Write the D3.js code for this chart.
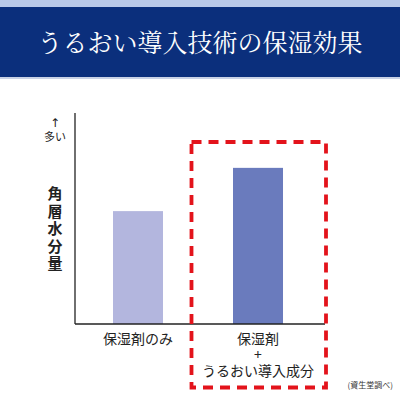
<!DOCTYPE html>
<html>
<head>
<meta charset="utf-8">
<script src="https://cdn.jsdelivr.net/npm/d3@7"></script>
<style>
  html, body { margin: 0; padding: 0; background: #fff; }
  svg { display: block; }
</style>
</head>
<body>
<div id="chart"></div>
<script>
// data
const title = 'うるおい導入技術の保湿効果'
const categories = ['保湿剤のみ', '保湿剤+うるおい導入成分']
const categoryLabels = [['保湿剤のみ'], ['保湿剤', '+', 'うるおい導入成分']]
const values = [53.5, 74]
const barColors = ['#b3b6de', '#6a7bbd']
const yLabelChars = ['角', '層', '水', '分', '量']
const yTopLabel = '多い'
const sourceNote = '(資生堂調べ)'
const highlighted = categories[1]

const width = 400
const height = 400
const margin = { top: 113, right: 75, bottom: 76, left: 75 }
const sans = '"Noto Sans CJK JP", "Noto Sans", sans-serif'
const serif = '"Noto Serif CJK JP", "IPAMincho", serif'

const svg = d3.select('#chart')
  .append('svg')
  .attr('width', width)
  .attr('height', height)
  .attr('viewBox', [0, 0, width, height].join(' '))

// header banner
svg.append('rect').attr('x', 0).attr('y', 0).attr('width', width).attr('height', 8).attr('fill', '#b9c9e8')
svg.append('rect').attr('x', 0).attr('y', 7).attr('width', width).attr('height', 70).attr('fill', '#0b2f7c')
svg.append('rect').attr('x', 0).attr('y', 77).attr('width', width).attr('height', 2).attr('fill', '#c9d2e6')
svg.append('text')
  .attr('x', width / 2)
  .attr('y', 52)
  .attr('text-anchor', 'middle')
  .attr('fill', '#fff')
  .attr('font-family', serif)
  .attr('font-size', 25)
  .text(title)

// scales
const x = d3.scaleBand()
  .domain(categories)
  .range([margin.left, width - margin.right])
  .paddingInner(0.5833)
  .paddingOuter(0.3333)
  .align(0.475)

const y = d3.scaleLinear()
  .domain([0, 100])
  .range([height - margin.bottom, margin.top])

// bars
svg.append('g')
  .selectAll('rect')
  .data(categories)
  .join('rect')
  .attr('x', d => x(d))
  .attr('width', x.bandwidth())
  .attr('y', (d, i) => y(values[i]))
  .attr('height', (d, i) => y(0) - y(values[i]))
  .attr('fill', (d, i) => barColors[i])

// axes (plain lines, no ticks)
const axes = svg.append('g').attr('stroke', '#222').attr('stroke-width', 1.3)
axes.append('line')
  .attr('x1', margin.left).attr('x2', margin.left)
  .attr('y1', y(100)).attr('y2', y(0))
axes.append('line')
  .attr('x1', margin.left).attr('x2', width - margin.right)
  .attr('y1', y(0)).attr('y2', y(0))

// category labels
const labels = svg.append('g')
  .attr('font-family', sans)
  .attr('font-size', 14)
  .attr('fill', '#222')
  .attr('text-anchor', 'middle')

categories.forEach((c, i) => {
  labels.append('text')
    .attr('x', x(c) + x.bandwidth() / 2)
    .attr('y', y(0) + 20)
    .selectAll('tspan')
    .data(categoryLabels[i])
    .join('tspan')
    .attr('x', x(c) + x.bandwidth() / 2)
    .attr('dy', (d, j) => j === 0 ? 0 : 16)
    .text(d => d)
})

// highlight box
const hx = x(highlighted) + x.bandwidth() / 2
svg.append('rect')
  .attr('x', hx - 66.5)
  .attr('y', 142)
  .attr('width', 134.5)
  .attr('height', 245.5)
  .attr('fill', 'none')
  .attr('stroke', '#e3131b')
  .attr('stroke-width', 3.8)
  .attr('stroke-dasharray', '10,7')

// y label
const yl = svg.append('g')
  .attr('font-family', sans)
  .attr('fill', '#222')
  .attr('text-anchor', 'middle')

yl.append('text')
  .attr('x', 55).attr('y', 127)
  .attr('font-family', '"DejaVu Sans", sans-serif')
  .attr('font-size', 12)
  .text('↑')
yl.append('text')
  .attr('x', 55).attr('y', 141)
  .attr('font-size', 11)
  .text(yTopLabel)
yl.selectAll('text.ch')
  .data(yLabelChars)
  .join('text')
  .attr('class', 'ch')
  .attr('x', 55)
  .attr('y', (d, i) => 199 + i * 17.5)
  .attr('font-size', 15)
  .attr('font-weight', 'bold')
  .text(d => d)

// source note
svg.append('text')
  .attr('x', 393)
  .attr('y', 388)
  .attr('text-anchor', 'end')
  .attr('font-family', sans)
  .attr('font-size', 8)
  .attr('fill', '#333')
  .text(sourceNote)
</script>
</body>
</html>
